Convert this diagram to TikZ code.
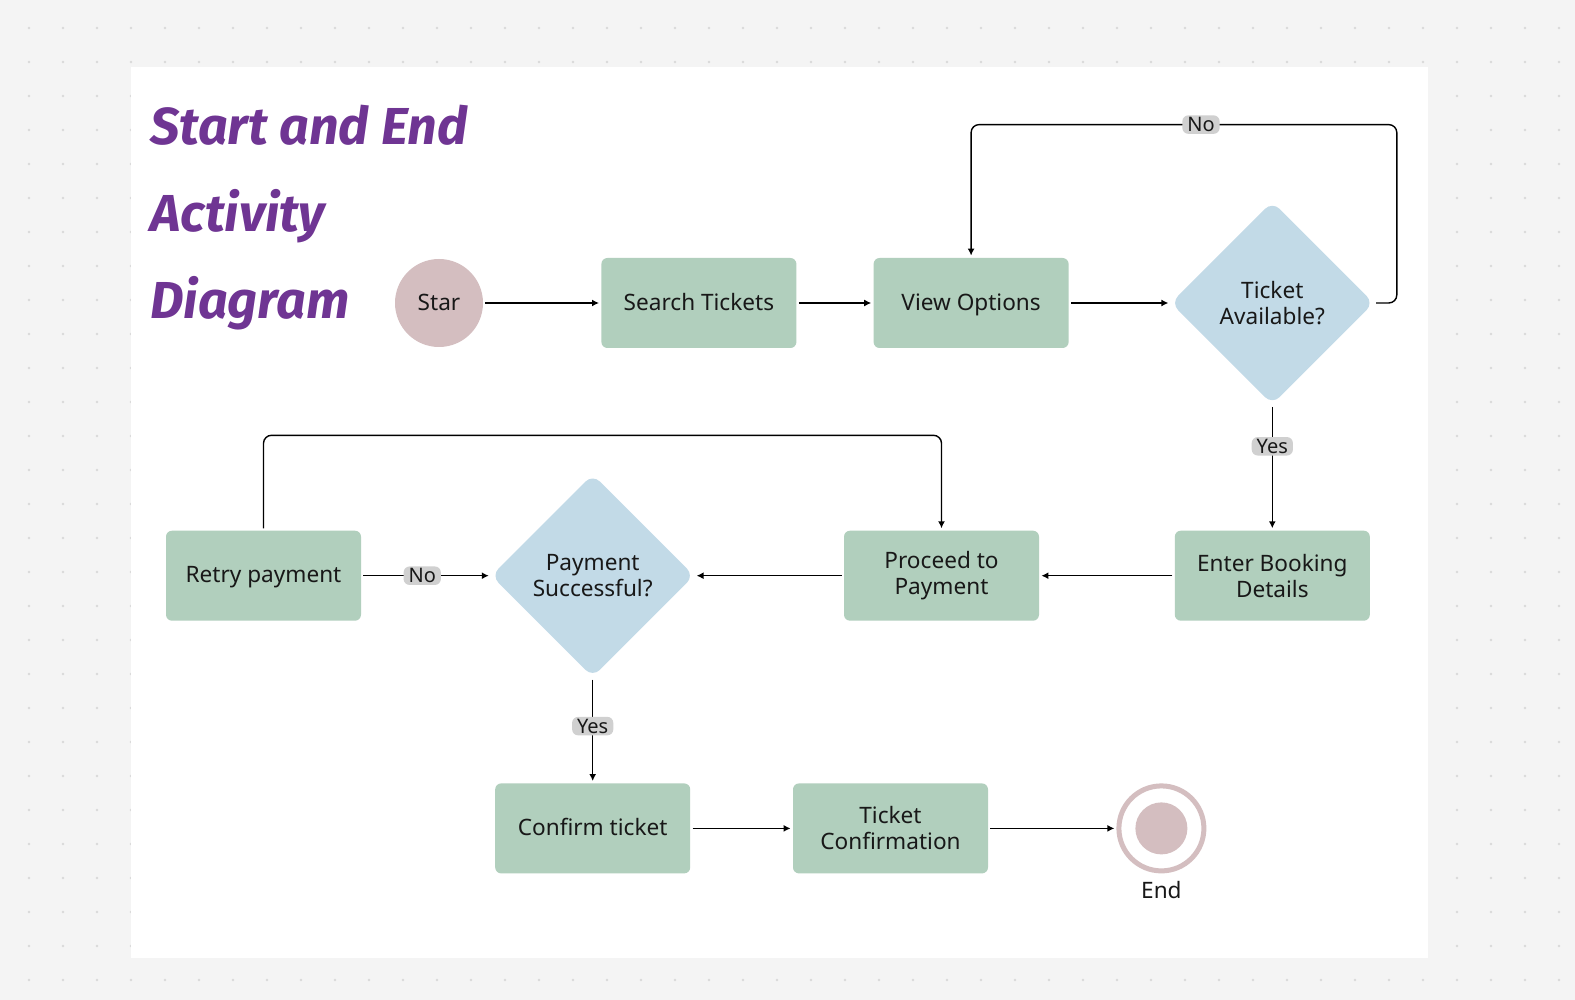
\documentclass[tikz,border=0pt]{standalone}
\usepackage{fontspec}
\setmainfont{Noto Sans}
\newfontfamily\titlefont{Fira Sans}
\usetikzlibrary{arrows.meta,positioning,shapes.geometric}
\definecolor{pagebg}{HTML}{F4F4F4}
\definecolor{gridDot}{HTML}{D9D9D9}
\definecolor{actgreen}{HTML}{B1CFBD}
\definecolor{choiceblue}{HTML}{C2DAE7}
\definecolor{nodepink}{HTML}{D4BEC0}
\definecolor{titlepurple}{HTML}{6F3593}
\definecolor{tagGray}{HTML}{D0D0D0}
\definecolor{inkC}{HTML}{181818}

\begin{document}
\begin{tikzpicture}[
    node distance=10mm,
    every node/.style={font=\fontsize{11.3pt}{13pt}\selectfont, text=inkC, align=center},
    heading/.style={anchor=west, inner sep=0pt, text=titlepurple, font=\titlefont\bfseries\itshape\fontsize{26pt}{28pt}\selectfont},
    activity/.style={rectangle, rounded corners=3pt, fill=actgreen, minimum width=97.5pt, minimum height=45pt},
    oneline/.style={text height=0.93em, text depth=0.22em},
    choice/.style={diamond, aspect=1, fill=choiceblue, rounded corners=5pt, minimum width=101.5pt, minimum height=101.5pt, inner sep=0pt},
    tag/.style={fill=tagGray, rounded corners=3pt, inner xsep=2.5pt, inner ysep=1pt, font=\fontsize{10pt}{11pt}\selectfont},
    flow/.style={draw=black, line width=0.7pt, -{Latex[length=3.5pt,width=3.5pt]}, shorten <=1pt, shorten >=1pt},
  ]
  % canvas and dot grid
  \useasboundingbox[fill=pagebg] (0,0) rectangle (787.5pt,-500pt);
  \foreach \i in {0,...,45}
    \foreach \j in {0,...,28}
      \fill[gridDot] (14.5pt+\i*17pt,-14pt-\j*17pt) circle (0.7pt);
  \fill[white] (65.3pt,-33.6pt) rectangle (714pt,-479pt);

  % title
  \node (titleA) [heading] at (75pt,-62.8pt) {Start and End};
  \node (titleB) [heading] at (75pt,-108pt) {Activity};
  \node (titleC) [heading] at (75pt,-151.5pt) {Diagram};

  % activities
  \node (star) [circle, oneline, fill=nodepink, minimum size=44pt] at (219.5pt,-151.5pt) {Star};
  \node (search) [activity, oneline, right=58.8pt of star] {Search Tickets};
  \node (view) [activity, oneline, right=38.2pt of search] {View Options};
  \node (ticket) [choice, right=50.7pt of view] {Ticket\\Available?};
  \node (booking) [activity, below=62.7pt of ticket] {Enter Booking\\Details};
  \node (proceed) [activity, left=67.5pt of booking] {Proceed to\\Payment};
  \node (payment) [choice, left=74.5pt of proceed] {Payment\\Successful?};
  \node (retry) [activity, oneline, left=64.7pt of payment] {Retry payment};
  \node (confirm) [activity, oneline, below=52.7pt of payment] {Confirm ticket};
  \node (ticketconf) [activity, right=51pt of confirm] {Ticket\\Confirmation};
  \node (finish) [circle, draw=nodepink, line width=2.5pt, minimum size=42.5pt, right=64pt of ticketconf] {};
  \node (finishdot) [circle, fill=nodepink, minimum size=26pt, inner sep=0pt] at (finish) {};
  \node (endlabel) [below=4pt of finish, inner sep=0pt] {End};

  % flows
  \draw[flow] (star) -- (search);
  \draw[flow] (search) -- (view);
  \draw[flow] (view) -- (ticket);
  \draw[flow, rounded corners=4pt] (ticket.east) -- ++(11.3pt,0) -- ++(0,89.2pt) -| node[tag, pos=0.23] {No} (view.north);
  \draw[flow] (ticket) -- node[tag, pos=0.33] {Yes} (booking);
  \draw[flow] (booking) -- (proceed);
  \draw[flow] (proceed) -- (payment);
  \draw[flow] (retry) -- node[tag, pos=0.47] {No} (payment);
  \draw[flow, rounded corners=4pt] (retry.north) -- ++(0,47.5pt) -| (proceed.north);
  \draw[flow] (payment) -- node[tag, pos=0.46] {Yes} (confirm);
  \draw[flow] (confirm) -- (ticketconf);
  \draw[flow] (ticketconf) -- (finish);
\end{tikzpicture}
\end{document}
